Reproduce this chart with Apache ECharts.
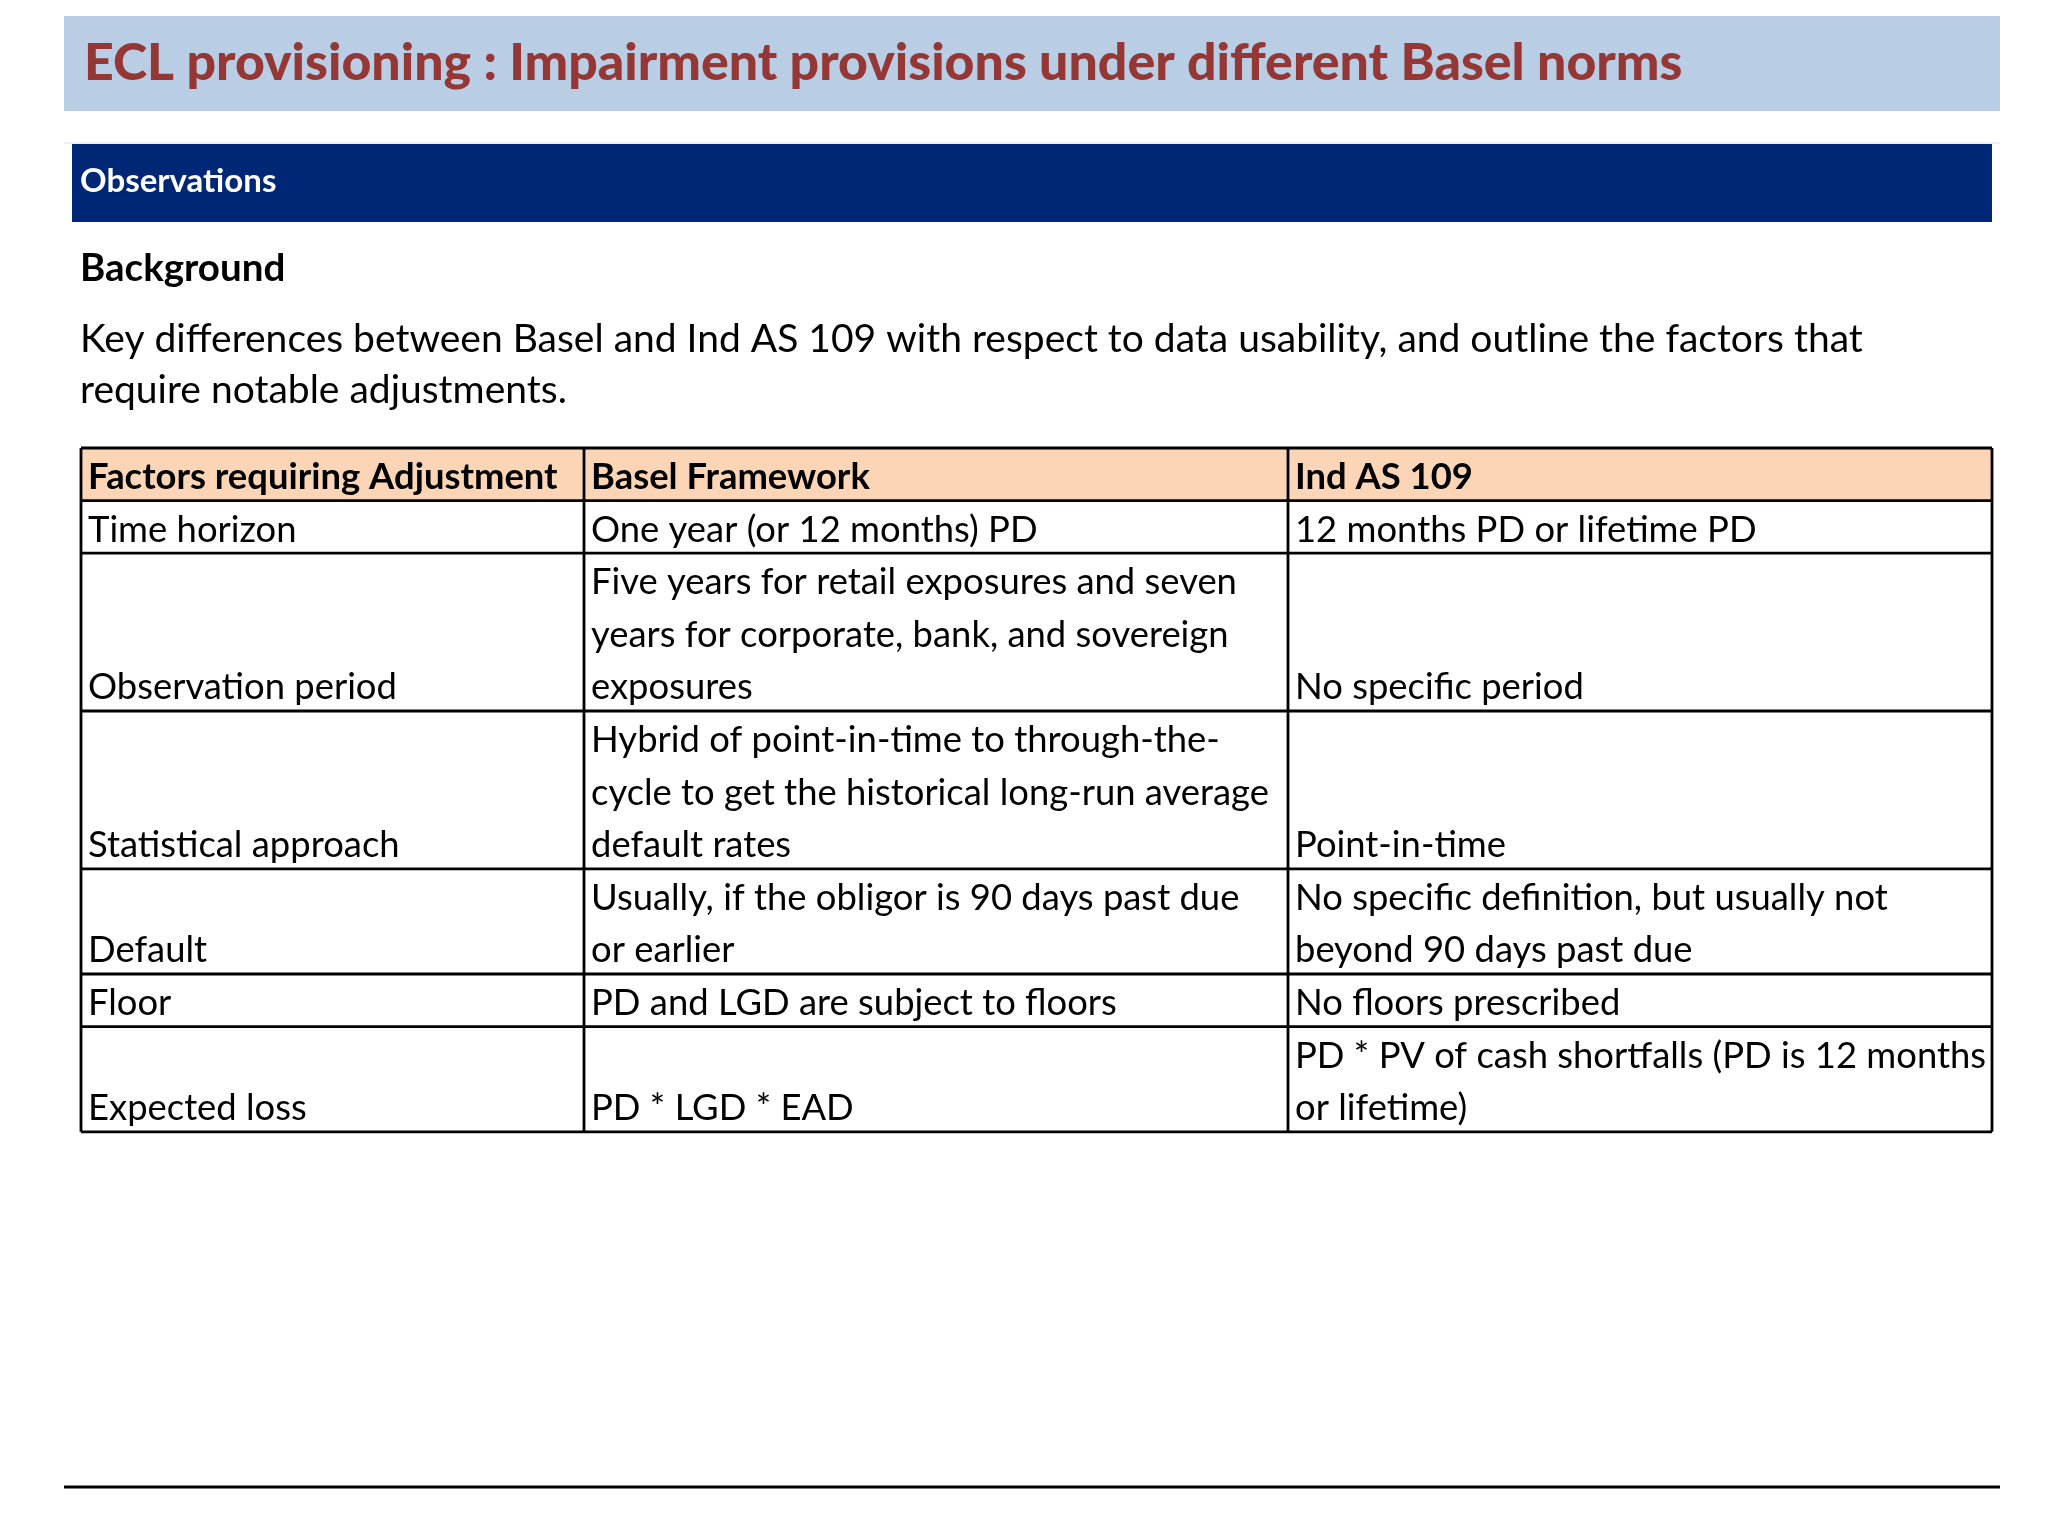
<!DOCTYPE html>
<html><head><meta charset="utf-8">
<script src="https://cdn.jsdelivr.net/npm/echarts@6/dist/echarts.min.js"></script>
<style>html,body{margin:0;padding:0;background:#fff}#c{width:2048px;height:1536px}</style>
</head><body><div id="c"></div>
<script>
const titleText = 'ECL provisioning : Impairment provisions under different Basel norms';
const sectionText = 'Observations';
const subheading = 'Background';
const paragraph = ['Key differences between Basel and Ind AS 109 with respect to data usability, and outline the factors that', 'require notable adjustments.'];
const headers = ['Factors requiring Adjustment', 'Basel Framework', 'Ind AS 109'];
const factors = ['Time horizon', 'Observation period', 'Statistical approach', 'Default', 'Floor', 'Expected loss'];
const basel = [
  ['One year (or 12 months) PD'],
  ['Five years for retail exposures and seven', 'years for corporate, bank, and sovereign', 'exposures'],
  ['Hybrid of point-in-time to through-the-', 'cycle to get the historical long-run average', 'default rates'],
  ['Usually, if the obligor is 90 days past due', 'or earlier'],
  ['PD and LGD are subject to floors'],
  ['PD * LGD * EAD']
];
const indas = [
  ['12 months PD or lifetime PD'],
  ['No specific period'],
  ['Point-in-time'],
  ['No specific definition, but usually not', 'beyond 90 days past due'],
  ['No floors prescribed'],
  ['PD * PV of cash shortfalls (PD is 12 months', 'or lifetime)']
];

const FONT = 'Lato, "Open Sans", sans-serif';
const g = [];
g.push({type:'rect', shape:{x:64,y:16,width:1936,height:95}, style:{fill:'#b9cde5'}});
g.push({type:'text', x:84, y:63, style:{text:titleText, fill:'#953735', font:'900 51.8px '+FONT, textVerticalAlign:'middle', shadowColor:'rgba(0,0,0,0.4)', shadowBlur:3, shadowOffsetX:2, shadowOffsetY:2}});
g.push({type:'line', shape:{x1:64,y1:143,x2:2000,y2:143}, style:{stroke:'#e0e0e0', lineWidth:1}});
g.push({type:'rect', shape:{x:72,y:144,width:1920,height:78}, style:{fill:'#002776'}});
g.push({type:'text', x:80, y:181, style:{text:sectionText, fill:'#fff', font:'bold 33px '+FONT, textVerticalAlign:'middle'}});
g.push({type:'text', x:80, y:269, style:{text:subheading, fill:'#000', font:'bold 38.5px '+FONT, textVerticalAlign:'middle'}});
paragraph.forEach((p,i)=>g.push({type:'text', x:80, y:339+i*51, style:{text:p, fill:'#000', font:'39px '+FONT, textVerticalAlign:'middle'}}));

const colX = [81, 584, 1288, 1992];
const lineH = 52.6;
const tableTop = 448;
let y = tableTop;
const rows = [[ [headers[0]], [headers[1]], [headers[2]] ]];
factors.forEach((f,i)=>rows.push([[f], basel[i], indas[i]]));
const rowBounds = [];
rows.forEach((r,ri)=>{
  const n = Math.max(...r.map(c=>c.length));
  const h = n*lineH;
  if (ri===0) g.push({type:'rect', shape:{x:colX[0],y:y,width:colX[3]-colX[0],height:h}, style:{fill:'#fbd5b5'}});
  r.forEach((cell,ci)=>{
    cell.forEach((t,li)=>{
      g.push({type:'text', x:colX[ci]+7, y:y+h-(cell.length-li)*lineH+lineH/2+3, z:10,
        style:{text:t, fill:'#000', font:(ri===0?'bold ':'')+'36.4px '+FONT, textVerticalAlign:'middle'}});
    });
  });
  rowBounds.push(y);
  y += h;
});
rowBounds.push(y);
rowBounds.forEach(b=>g.push({type:'line', z:20, shape:{x1:colX[0],y1:b,x2:colX[3],y2:b}, style:{stroke:'#000',lineWidth:2.8}}));
colX.forEach(x=>g.push({type:'line', z:20, shape:{x1:x,y1:tableTop,x2:x,y2:y}, style:{stroke:'#000',lineWidth:2.8}}));
g.push({type:'line', shape:{x1:64,y1:1487,x2:2000,y2:1487}, style:{stroke:'#000',lineWidth:2.8}});

const chart = echarts.init(document.getElementById('c'));
chart.setOption({backgroundColor:'#fff', graphic:g});
</script></body></html>
